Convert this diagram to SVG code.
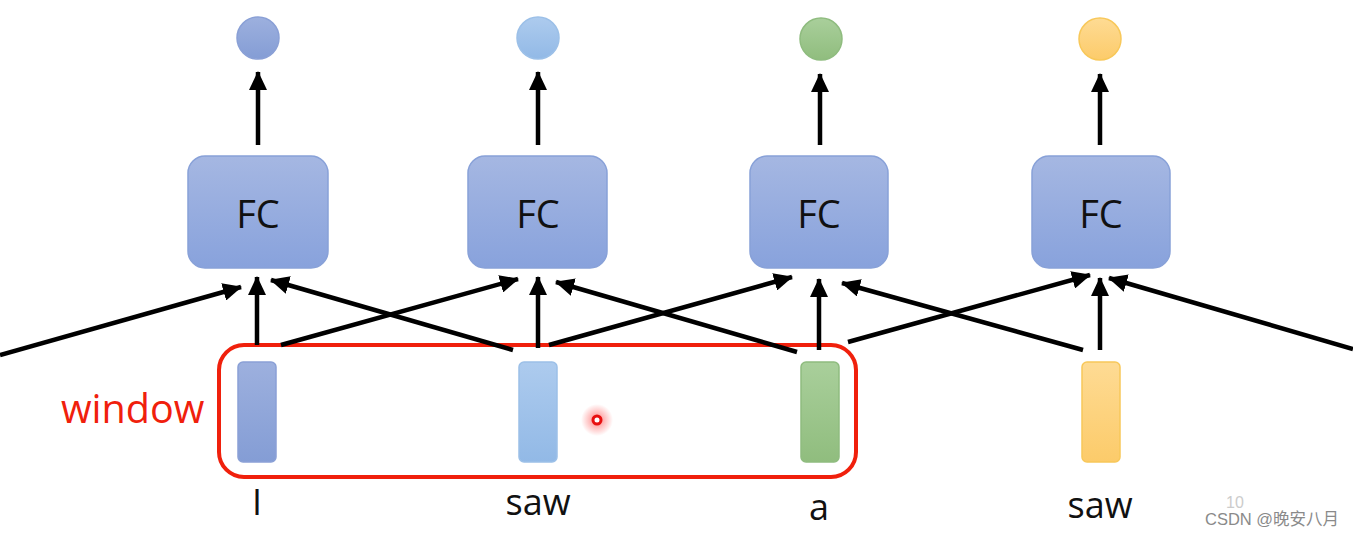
<svg xmlns="http://www.w3.org/2000/svg" width="1353" height="537" viewBox="0 0 1353 537">
<style>
.fc{stroke:#88a1d8;stroke-width:1.5}
.fct{font-family:"Open Sans","Liberation Sans",sans-serif;font-size:38px;fill:#111;text-anchor:middle}
.lbl{font-family:"Open Sans","Liberation Sans",sans-serif;font-size:36px;fill:#111;text-anchor:middle}
.con line{stroke:#000;stroke-width:4.5;marker-end:url(#ah)}
</style>
<defs>
<marker id="ah" markerUnits="userSpaceOnUse" markerWidth="20" markerHeight="18" refX="18" refY="9" orient="auto">
<path d="M0,0 L19,9 L0,18 Z" fill="#000"/>
</marker>
<linearGradient id="gfc" x1="0" y1="0" x2="0" y2="1"><stop offset="0" stop-color="#a5b7e2"/><stop offset="1" stop-color="#88a2dc"/></linearGradient>
<linearGradient id="g1" x1="0" y1="0" x2="0" y2="1"><stop offset="0" stop-color="#9db0de"/><stop offset="1" stop-color="#849dd5"/></linearGradient>
<linearGradient id="g2" x1="0" y1="0" x2="0" y2="1"><stop offset="0" stop-color="#adcbee"/><stop offset="1" stop-color="#92b9e6"/></linearGradient>
<linearGradient id="g3" x1="0" y1="0" x2="0" y2="1"><stop offset="0" stop-color="#a9cf9b"/><stop offset="1" stop-color="#90bd7e"/></linearGradient>
<linearGradient id="g4" x1="0" y1="0" x2="0" y2="1"><stop offset="0" stop-color="#fedb94"/><stop offset="1" stop-color="#fccb6a"/></linearGradient>
<radialGradient id="glow"><stop offset="0" stop-color="#ff3030" stop-opacity="0.6"/><stop offset="1" stop-color="#ff3030" stop-opacity="0"/></radialGradient>
</defs>
<rect width="1353" height="537" fill="#fff"/>

<g id="out1"><circle cx="258" cy="38" r="21" fill="url(#g1)" stroke="#8aa0d6" stroke-width="1.5"/></g>
<g id="out2"><circle cx="538" cy="38" r="21" fill="url(#g2)" stroke="#9cc0e8" stroke-width="1.5"/></g>
<g id="out3"><circle cx="821" cy="39" r="21" fill="url(#g3)" stroke="#8fbc7f" stroke-width="1.5"/></g>
<g id="out4"><circle cx="1100" cy="39" r="21" fill="url(#g4)" stroke="#f8c85a" stroke-width="1.5"/></g>

<g id="fc1"><rect class="fc" x="188" y="156" width="140" height="112" rx="17" fill="url(#gfc)"/><text class="fct" x="258" y="228">FC</text></g>
<g id="fc2"><rect class="fc" x="468" y="156" width="139" height="112" rx="17" fill="url(#gfc)"/><text class="fct" x="538" y="228">FC</text></g>
<g id="fc3"><rect class="fc" x="750" y="156" width="138" height="112" rx="17" fill="url(#gfc)"/><text class="fct" x="819" y="228">FC</text></g>
<g id="fc4"><rect class="fc" x="1032" y="156" width="138" height="112" rx="17" fill="url(#gfc)"/><text class="fct" x="1101" y="228">FC</text></g>

<g id="in1"><rect x="238" y="362" width="38" height="100" rx="5" fill="url(#g1)" stroke="#8aa0d6" stroke-width="1.5"/><text class="lbl" x="257" y="515">I</text></g>
<g id="in2"><rect x="519" y="362" width="38" height="100" rx="5" fill="url(#g2)" stroke="#9cc0e8" stroke-width="1.5"/><text class="lbl" x="538" y="515">saw</text></g>
<g id="in3"><rect x="801" y="362" width="38" height="100" rx="5" fill="url(#g3)" stroke="#8fbc7f" stroke-width="1.5"/><text class="lbl" x="819" y="520">a</text></g>
<g id="in4"><rect x="1082" y="362" width="38" height="100" rx="5" fill="url(#g4)" stroke="#f8c85a" stroke-width="1.5"/><text class="lbl" x="1100" y="518">saw</text></g>

<g id="window"><rect x="219" y="345" width="637" height="132" rx="25" fill="none" stroke="#f0200c" stroke-width="4"/><text x="61" y="423" font-family="'Open Sans','Liberation Sans',sans-serif" font-size="39.5" fill="#f0200c">window</text></g>

<g class="con" id="connectors">
<line x1="258" y1="145" x2="258" y2="72"/>
<line x1="538" y1="145" x2="538" y2="72"/>
<line x1="820" y1="145" x2="820" y2="74"/>
<line x1="1100" y1="145" x2="1100" y2="74"/>
<line x1="0" y1="355" x2="241" y2="287"/>
<line x1="257" y1="345" x2="257" y2="277"/>
<line x1="513" y1="350" x2="271" y2="280"/>
<line x1="281" y1="345" x2="518" y2="279"/>
<line x1="538" y1="348" x2="538" y2="277"/>
<line x1="797" y1="352" x2="556" y2="282"/>
<line x1="549" y1="345" x2="792" y2="277"/>
<line x1="819" y1="350" x2="819" y2="279"/>
<line x1="1083" y1="350" x2="842" y2="283"/>
<line x1="848" y1="342" x2="1090" y2="275"/>
<line x1="1100" y1="350" x2="1100" y2="278"/>
<line x1="1353" y1="349" x2="1109" y2="278"/>
</g>

<g id="pointer"><circle cx="597" cy="420" r="16" fill="url(#glow)"/><circle cx="597" cy="420" r="4" fill="#fff" stroke="#e81010" stroke-width="3"/></g>

<text x="1235" y="508" font-family="'Liberation Sans',sans-serif" font-size="16" fill="#cccccc" text-anchor="middle">10</text>
<text x="1205" y="525" font-family="'Liberation Sans','Noto Sans CJK SC',sans-serif" font-size="16.5" fill="#8a8a8a">CSDN @晚安八月</text>
</svg>
